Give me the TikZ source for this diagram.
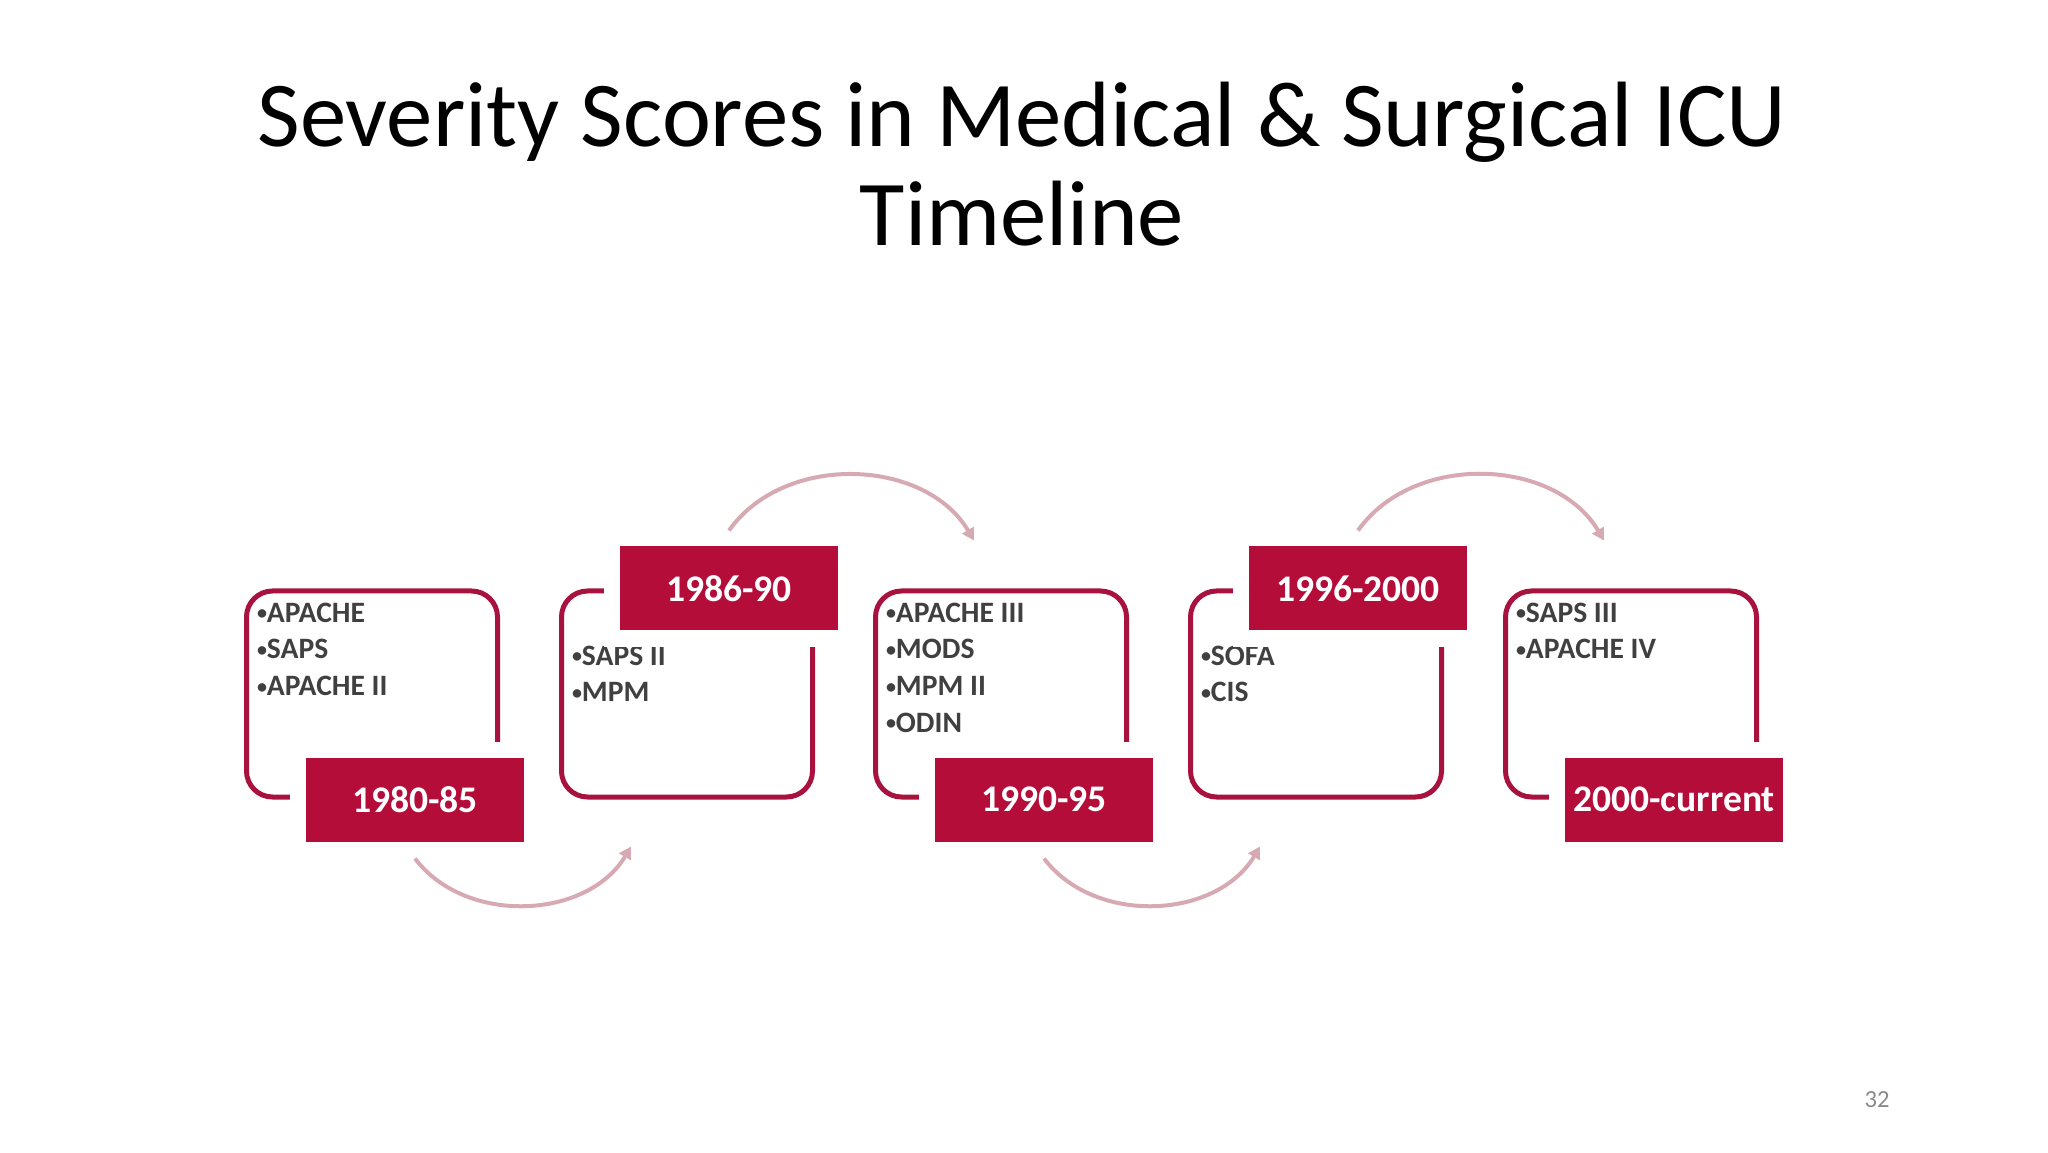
\documentclass[tikz,border=0pt]{standalone}
\usepackage{fontspec}
\setmainfont{Carlito}
\usetikzlibrary{arrows.meta}
\definecolor{tagred}{HTML}{B50D3A}
\definecolor{boxline}{HTML}{A8123F}
\definecolor{itemgray}{HTML}{404040}
\definecolor{arcpink}{HTML}{D7AAB3}
\definecolor{pagegray}{HTML}{8A8A8A}
\newcommand{\itm}{{\fontsize{10}{10}\selectfont\raisebox{0.12em}{•}}}

\begin{document}
\begin{tikzpicture}[x=0.5pt,y=0.5pt,
  box/.style={draw=boxline,line width=2.5pt,rounded corners=13pt,minimum width=125.5pt,minimum height=103pt,inner sep=0pt},
  tag/.style={fill=tagred,draw=white,line width=8pt,minimum width=117pt,minimum height=50pt,inner sep=0pt,text=white,font=\bfseries\fontsize{18.8}{20}\selectfont},
  items/.style={anchor=north west,align=left,inner sep=0pt,text=itemgray,font=\bfseries\fontsize{14.8}{18.3}\selectfont},
  hop/.style={draw=arcpink,line width=2pt,-{Triangle[length=6pt,width=6.5pt]}}]
\useasboundingbox (0,0) rectangle (2048,1152);
\node[anchor=base,align=center,font=\fontsize{46.4}{49.5}\selectfont] (title) at (1022,906) {Severity Scores in Medical \& Surgical ICU\\Timeline};
% boxes
\node[box] (b1) at (372,458) {};
\node[box] (b2) at (687,458) {};
\node[box] (b3) at (1001,458) {};
\node[box] (b4) at (1316,458) {};
\node[box] (b5) at (1631,458) {};
% entries
\node[items] (i1) at ([shift={(6.3pt,-7pt)}]b1.north west) {\itm APACHE\\\itm SAPS\\\itm APACHE II};
\node[items] (i2) at ([shift={(6.3pt,-28.5pt)}]b2.north west) {\itm SAPS II\\\itm MPM};
\node[items] (i3) at ([shift={(6.3pt,-7pt)}]b3.north west) {\itm APACHE III\\\itm MODS\\\itm MPM II\\\itm ODIN};
\node[items] (i4) at ([shift={(6.3pt,-28.5pt)}]b4.north west) {\itm SOFA\\\itm CIS};
\node[items] (i5) at ([shift={(6.3pt,-7pt)}]b5.north west) {\itm SAPS III\\\itm APACHE IV};
% year tags
\node[tag] (t1) at ([xshift=21.5pt]b1.south) {1980-85};
\node[tag] (t2) at ([xshift=21pt]b2.north) {1986-90};
\node[tag] (t3) at ([xshift=21.5pt]b3.south) {1990-95};
\node[tag] (t4) at ([xshift=21pt]b4.north) {1996-2000};
\node[tag] (t5) at ([xshift=21.5pt]b5.south) {2000-current};
% arrow ends
\coordinate (e1) at ([shift={(36pt,-23.5pt)}]b2.south west);
\coordinate (e2) at ([shift={(50.5pt,24pt)}]b3.north west);
\coordinate (e3) at ([shift={(36pt,-23.5pt)}]b4.south west);
\coordinate (e4) at ([shift={(50.5pt,24pt)}]b5.north west);
\draw[hop] ([yshift=-0.5pt]t1.south) to[bend right=56] (e1);
\draw[hop] ([yshift=0pt]t2.north) to[bend left=57] (e2);
\draw[hop] ([yshift=-0.5pt]t3.south) to[bend right=56] (e3);
\draw[hop] ([yshift=0pt]t4.north) to[bend left=57] (e4);
\node[text=pagegray,font=\fontsize{12.3}{14}\selectfont] (pg) at (1877,52) {32};
\end{tikzpicture}
\end{document}
